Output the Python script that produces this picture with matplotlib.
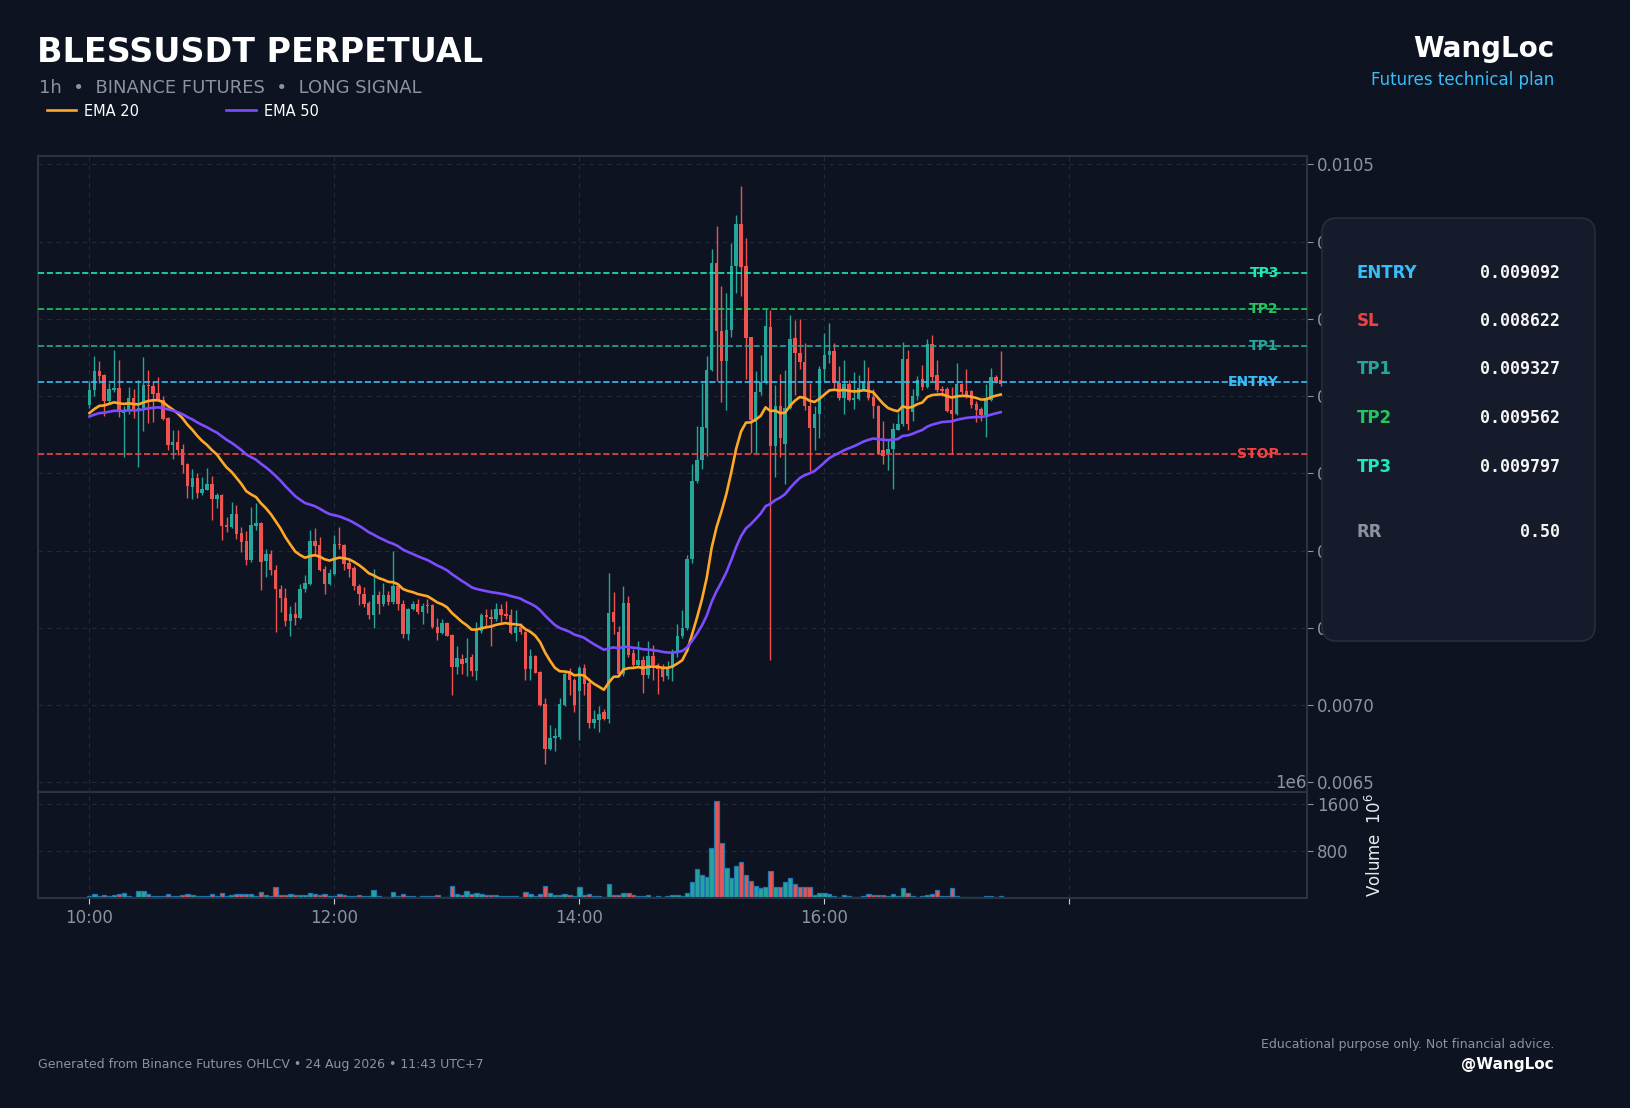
import numpy as np
import matplotlib
matplotlib.use("Agg")
import matplotlib.pyplot as plt
from matplotlib.patches import FancyBboxPatch
from matplotlib.ticker import MultipleLocator, FixedLocator, FormatStrFormatter

plt.rcParams["font.family"] = ["DejaVu Sans"]

# ---- data (prices in 1e-6 USDT, volume in 1e6) ----
opens = [8939, 9037, 9165, 9139, 8970, 9041, 9052, 8890, 8911, 8987,
         8907, 8922, 9074, 9067, 9022, 8976, 8857, 8684, 8703, 8658,
         8561, 8413, 8470, 8370, 8394, 8431, 8335, 8359, 8164, 8154,
         8236, 8115, 8060, 7937, 8160, 8180, 7933, 7976, 7876, 7753,
         7695, 7547, 7591, 7565, 7753, 7781, 8061, 8035, 7879, 7781,
         7846, 8045, 8035, 7920, 7887, 7768, 7721, 7660, 7580, 7710,
         7651, 7710, 7666, 7770, 7651, 7461, 7623, 7651, 7602, 7647,
         7645, 7508, 7465, 7532, 7456, 7244, 7298, 7270, 7309, 7223,
         7482, 7580, 7573, 7554, 7623, 7591, 7586, 7465, 7508, 7476,
         7231, 7318, 7212, 7006, 6714, 6785, 6791, 7002, 7205, 7163,
         7088, 7237, 7143, 6885, 6903, 6952, 6910, 7604, 7472, 7200,
         7658, 7336, 7262, 7292, 7192, 7319, 7262, 7237, 7187, 7237,
         7336, 7448, 7497, 7943, 8451, 8588, 8793, 9170, 9864, 9423,
         9224, 9430, 9839, 10112, 9844, 9381, 8835, 9026, 9091, 9450,
         8674, 8935, 8687, 8922, 9377, 9280, 9219, 8938, 8794, 8884,
         9176, 9265, 9290, 9085, 8986, 9081, 8977, 8984, 9046, 9096,
         8995, 8938, 8649, 8627, 8660, 8783, 8822, 9241, 8895, 8999,
         9111, 9059, 9334, 9139, 9046, 9046, 8908, 8887, 9081, 9031,
         9031, 8951, 8917, 8880, 8973, 9124, 9103]
highs = [9095, 9262, 9225, 9143, 9085, 9295, 9236, 8933, 9058, 9046,
         9106, 9253, 9167, 9095, 9123, 8998, 8864, 8781, 8781, 8688,
         8565, 8526, 8500, 8478, 8532, 8483, 8374, 8364, 8214, 8316,
         8294, 8154, 8128, 8283, 8305, 8186, 8013, 8006, 7905, 7779,
         7760, 7640, 7666, 7785, 7840, 8132, 8143, 8089, 7900, 7883,
         8099, 8154, 8040, 7948, 7898, 7786, 7764, 7673, 7883, 7738,
         7790, 7738, 7996, 7786, 7682, 7628, 7673, 7688, 7662, 7686,
         7651, 7562, 7554, 7537, 7461, 7379, 7331, 7435, 7331, 7537,
         7595, 7623, 7623, 7660, 7656, 7673, 7623, 7612, 7530, 7482,
         7363, 7327, 7218, 7045, 6872, 6850, 7044, 7212, 7237, 7175,
         7250, 7267, 7175, 6970, 6994, 6977, 7857, 7733, 7510, 7770,
         7708, 7361, 7415, 7316, 7415, 7386, 7274, 7267, 7282, 7361,
         7522, 7614, 7968, 8563, 8803, 9083, 9257, 9950, 10099, 9715,
         9665, 9988, 10174, 10359, 10025, 9385, 9165, 9269, 9566, 9554,
         9071, 9140, 9170, 9522, 9491, 9496, 9344, 9085, 8934, 9193,
         9409, 9470, 9344, 9193, 9236, 9107, 9154, 9139, 9236, 9189,
         9046, 8940, 8837, 8718, 8826, 8891, 9349, 9297, 9046, 9133,
         9204, 9370, 9398, 9236, 9068, 9059, 9059, 9215, 9085, 9172,
         9042, 8966, 8930, 9081, 9182, 9139, 9290]
lows = [8922, 8998, 9085, 8868, 8955, 9026, 8864, 8604, 8885, 8857,
        8543, 8771, 8825, 8829, 8965, 8846, 8651, 8591, 8619, 8500,
        8338, 8331, 8338, 8359, 8392, 8197, 8273, 8067, 8121, 8143,
        8078, 7991, 7905, 7926, 8132, 7742, 7829, 7840, 7472, 7601,
        7511, 7450, 7515, 7558, 7731, 7775, 7980, 7868, 7721, 7775,
        7840, 8013, 7872, 7829, 7742, 7649, 7634, 7558, 7500, 7591,
        7640, 7645, 7656, 7612, 7435, 7418, 7612, 7591, 7526, 7595,
        7500, 7422, 7461, 7446, 7067, 7201, 7201, 7190, 7190, 7162,
        7465, 7504, 7385, 7547, 7537, 7558, 7461, 7413, 7461, 7162,
        7162, 7205, 6995, 6621, 6709, 6703, 6779, 6994, 7064, 6952,
        6771, 7064, 6853, 6853, 6828, 6903, 6885, 7460, 7188, 7188,
        7311, 7250, 7250, 7076, 7175, 7163, 7069, 7158, 7168, 7158,
        7311, 7435, 7485, 7918, 8439, 8531, 8612, 9165, 9096, 8959,
        8910, 9381, 9665, 9646, 9108, 8630, 8630, 9010, 9076, 7292,
        8476, 8605, 8432, 8917, 9010, 9172, 8913, 8513, 8653, 8729,
        9096, 9215, 9053, 8977, 8887, 8966, 8917, 8977, 9031, 8977,
        8858, 8625, 8563, 8524, 8398, 8779, 8809, 8779, 8837, 8977,
        9038, 9053, 9096, 9025, 8999, 8895, 8627, 8880, 9016, 8988,
        8923, 8830, 8837, 8735, 8966, 9085, 9068]
closes = [9041, 9165, 9128, 8965, 9048, 9052, 8901, 8905, 8987, 8911,
          8922, 9074, 9063, 9015, 8976, 8853, 8684, 8703, 8651, 8554,
          8420, 8467, 8374, 8396, 8431, 8335, 8359, 8160, 8154, 8236,
          8110, 8056, 7937, 8164, 8180, 7926, 7980, 7872, 7753, 7692,
          7547, 7591, 7563, 7753, 7792, 8061, 8028, 7872, 7781, 7855,
          8045, 8035, 7911, 7879, 7768, 7716, 7651, 7580, 7710, 7656,
          7710, 7666, 7770, 7651, 7461, 7623, 7656, 7602, 7640, 7640,
          7504, 7465, 7532, 7450, 7244, 7305, 7266, 7305, 7223, 7482,
          7580, 7569, 7554, 7623, 7586, 7576, 7465, 7508, 7472, 7231,
          7318, 7207, 7002, 6714, 6785, 6800, 7007, 7200, 7163, 7002,
          7237, 7138, 6885, 6908, 6940, 6910, 7596, 7535, 7200, 7658,
          7324, 7257, 7292, 7192, 7319, 7257, 7232, 7182, 7237, 7336,
          7448, 7497, 7943, 8451, 8588, 8798, 9170, 9864, 9418, 9224,
          9430, 9839, 10112, 9834, 9373, 8843, 9026, 9091, 9455, 8674,
          8935, 8729, 8922, 9368, 9280, 9219, 8934, 8794, 8887, 9176,
          9269, 9290, 9085, 8988, 9081, 8977, 8988, 9053, 9096, 8988,
          8934, 8627, 8614, 8660, 8787, 8822, 9241, 8822, 9003, 9107,
          9059, 9334, 9124, 9038, 9031, 8902, 8887, 9075, 9025, 9003,
          8945, 8913, 8880, 8988, 9124, 9096, 9081]
volumes = [34, 68, 45, 51, 34, 51, 68, 85, 34, 28,
           119, 119, 68, 34, 34, 34, 68, 34, 34, 51,
           68, 51, 34, 34, 34, 68, 34, 85, 34, 51,
           68, 68, 68, 68, 34, 102, 51, 34, 187, 51,
           51, 68, 51, 51, 51, 85, 68, 51, 68, 34,
           34, 68, 51, 34, 34, 51, 34, 34, 136, 34,
           17, 17, 102, 34, 68, 34, 34, 17, 34, 34,
           34, 51, 17, 17, 204, 68, 51, 119, 68, 85,
           68, 51, 51, 51, 34, 34, 34, 34, 17, 102,
           68, 34, 68, 204, 85, 62, 62, 80, 62, 45,
           187, 62, 80, 45, 45, 17, 250, 62, 62, 97,
           97, 62, 45, 45, 62, 28, 45, 28, 45, 62,
           62, 45, 97, 284, 489, 403, 358, 847, 1648, 932,
           511, 341, 540, 608, 403, 301, 216, 170, 187, 455,
           187, 187, 273, 341, 250, 199, 187, 187, 62, 97,
           97, 80, 45, 28, 62, 45, 28, 28, 45, 80,
           62, 62, 62, 45, 80, 45, 170, 97, 45, 28,
           45, 62, 80, 136, 45, 45, 170, 45, 17, 17,
           28, 17, 28, 45, 45, 28, 45]

ema20_start = 8890
ema50_start = 8868

time_ticks = [0, 50, 100, 150, 200]
time_labels = ["10:00", "12:00", "14:00", "16:00", ""]

levels = {"TP3": 0.009797, "TP2": 0.009562, "TP1": 0.009327,
          "ENTRY": 0.009092, "STOP": 0.008622}

o = np.array(opens) * 1e-6
h = np.array(highs) * 1e-6
l = np.array(lows) * 1e-6
c = np.array(closes) * 1e-6
vol = np.array(volumes) * 1e6
x = np.arange(len(c))


def ema(values, span, start):
    k = 2.0 / (span + 1)
    out = [start]
    for v in values[1:]:
        out.append(out[-1] + k * (v - out[-1]))
    return np.array(out)


ema20 = ema(c, 20, ema20_start * 1e-6)
ema50 = ema(c, 50, ema50_start * 1e-6)

# ---- style ----
BG = "#0d1320"
GRID = "#222a37"
SPINE = "#2b3240"
MUTED = "#8b93a1"
GREEN = "#26a69a"
RED = "#ef5350"
lvl_colors = {"TP3": "#1de9b6", "TP2": "#22c55e", "TP1": "#26a69a",
              "ENTRY": "#38bdf8", "STOP": "#ef4444"}

fig = plt.figure(figsize=(16.31, 11.08), dpi=100, facecolor=BG)
ax = fig.add_axes([0.023, 0.2849, 0.7783, 0.5746], facecolor=BG)
axv = fig.add_axes([0.023, 0.1893, 0.7783, 0.0956], facecolor=BG, sharex=ax)

up = c >= o
cols = np.where(up, GREEN, RED)

ax.vlines(x, l, h, colors=cols, lw=1, zorder=2)
ax.bar(x, np.maximum(np.abs(c - o), 2e-6), bottom=np.minimum(o, c),
       width=0.7, color=cols, zorder=2)

ln20, = ax.plot(x, ema20, color="#ffa726", lw=1.9, zorder=4, label="EMA 20")
ln50, = ax.plot(x, ema50, color="#7c4dff", lw=1.9, zorder=4, label="EMA 50")

for name, val in levels.items():
    ax.axhline(val, color=lvl_colors[name], lw=1.2, ls="--", zorder=3)
    ax.text(0.978, val, name, transform=ax.get_yaxis_transform(),
            ha="right", va="center", color=lvl_colors[name],
            fontsize=10, fontweight="bold", zorder=5)

axv.bar(x, vol, width=0.9, color=cols, edgecolor="#1f77b4", lw=0.9)

ax.set_xlim(-10.6, 248.5)
ax.set_ylim(0.006435, 0.010556)
axv.set_ylim(0, 1.8e9)

for a in (ax, axv):
    a.grid(True, color=GRID, ls=(0, (4, 4)), lw=0.8)
    a.set_axisbelow(True)
    for s in a.spines.values():
        s.set_color(SPINE)
        s.set_linewidth(1.5)
    a.yaxis.tick_right()
    a.tick_params(axis="y", colors=MUTED, labelsize=12, length=4)

ax.yaxis.set_major_locator(MultipleLocator(0.0005))
ax.yaxis.set_major_formatter(FormatStrFormatter("%.4f"))
ax.tick_params(axis="x", labelbottom=False, length=0)

axv.xaxis.set_major_locator(FixedLocator(time_ticks))
axv.set_xticklabels(time_labels)
axv.tick_params(axis="x", colors="#c9ced6", labelcolor=MUTED, labelsize=12, length=4)
axv.yaxis.set_major_locator(FixedLocator([800e6, 1600e6]))
axv.ticklabel_format(axis="y", style="sci", scilimits=(6, 6))
axv.yaxis.get_offset_text().set_color(MUTED)
axv.yaxis.get_offset_text().set_fontsize(12)
axv.yaxis.set_label_position("right")
axv.set_ylabel("Volume  $10^6$", color="#e8eaed", fontsize=12)

# ---- header ----
fig.text(0.0225, 0.9443, "BLESSUSDT PERPETUAL", color="white", fontsize=24,
         fontweight="bold", va="baseline")
fig.text(0.0242, 0.9163, "1h  •  BINANCE FUTURES  •  LONG SIGNAL", color=MUTED,
         fontsize=13, va="baseline")
fig.text(0.9528, 0.9486, "WangLoc", color="white", fontsize=20,
         fontweight="bold", ha="right", va="baseline")
fig.text(0.9528, 0.9233, "Futures technical plan", color="#38bdf8",
         fontsize=12, ha="right", va="baseline")
leg = fig.legend(handles=[ln20, ln50], loc="center left",
                 bbox_to_anchor=(0.0286, 0.8998), ncol=2, frameon=False,
                 fontsize=10.5, columnspacing=6, borderpad=0,
                 borderaxespad=0, handletextpad=0.55)
for t in leg.get_texts():
    t.set_color("white")

# ---- side panel ----
panel = FancyBboxPatch((0.8105, 0.4215), 0.1674, 0.3817,
                       boxstyle="round,pad=0,rounding_size=0.0092",
                       mutation_aspect=1631 / 1108, transform=fig.transFigure,
                       facecolor="#151b2b", edgecolor="#262d3d", lw=1.2)
fig.patches.append(panel)

rr = (levels["TP1"] - levels["ENTRY"]) / (levels["ENTRY"] - levels["STOP"])
rows = [("ENTRY", levels["ENTRY"], lvl_colors["ENTRY"], 0.7494),
        ("SL", levels["STOP"], lvl_colors["STOP"], 0.7058),
        ("TP1", levels["TP1"], lvl_colors["TP1"], 0.6625),
        ("TP2", levels["TP2"], lvl_colors["TP2"], 0.6182),
        ("TP3", levels["TP3"], lvl_colors["TP3"], 0.5740)]
for name, val, col, yy in rows:
    fig.text(0.8320, yy, name, color=col, fontsize=12, fontweight="bold",
             va="baseline")
    fig.text(0.9565, yy, f"{val:.6f}", color="#f5f5f5", fontsize=12,
             fontweight="bold", family="DejaVu Sans Mono", ha="right",
             va="baseline")
fig.text(0.8320, 0.5153, "RR", color=MUTED, fontsize=12, fontweight="bold",
         va="baseline")
fig.text(0.9565, 0.5153, f"{rr:.2f}", color="#f5f5f5", fontsize=12,
         fontweight="bold", family="DejaVu Sans Mono", ha="right",
         va="baseline")

# ---- footer ----
fig.text(0.0236, 0.036,
         "Generated from Binance Futures OHLCV • 24 Aug 2026 • 11:43 UTC+7",
         color=MUTED, fontsize=9, va="baseline")
fig.text(0.9528, 0.0544, "Educational purpose only. Not financial advice.",
         color=MUTED, fontsize=9, ha="right", va="baseline")
fig.text(0.9528, 0.0351, "@WangLoc", color="white", fontsize=11,
         fontweight="bold", ha="right", va="baseline")

fig.savefig("out.png", dpi=100, facecolor=BG)
